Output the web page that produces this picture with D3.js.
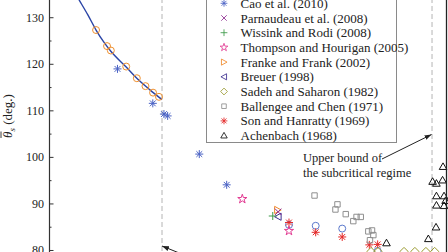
<!DOCTYPE html>
<html>
<head>
<meta charset="utf-8">
<script src="https://cdn.jsdelivr.net/npm/d3@7"></script>
<style>
  body { margin: 0; background: #fff; }
  svg { display: block; font-family: "Liberation Serif", "Times New Roman", serif; }
</style>
</head>
<body>
<div id="chart"></div>
<script>
// data (Re, mean separation angle in degrees)
var presentRe = [37, 49, 54, 80, 105, 131, 159, 185];
var presentTheta = [127.25, 123.8, 122.85, 119.4, 116.9, 115.2, 113.8, 112.9];

var fitRe = [20, 24, 30, 37, 45, 54, 80, 105, 147, 200];
var fitTheta = [136.3, 133.7, 130.5, 127.25, 124.7, 122.7, 119.3, 116.9, 114.4, 112.3];

var caoRe = [64, 158, 210, 231, 519, 1046];
var caoTheta = [118.9, 111.5, 109.2, 108.8, 100.6, 94.0];

var parnaudeauRe = [3900];
var parnaudeauTheta = [88.2];

var wissinkRe = [3400];
var wissinkTheta = [87.3];

var thompsonRe = [1560, 5150];
var thompsonTheta = [90.95, 84.1];

var frankeRe = [3850];
var frankeTheta = [88.6];

var breuerRe = [3900];
var breuerTheta = [87.15];

var sadehRe = [42000, 50200, 97700, 129000, 171000, 214000];
var sadehTheta = [79.7, 79.7, 79.7, 79.7, 79.7, 79.7];

var ballengeeRe = [9900, 17800, 16900, 22000, 26700, 29000, 32300, 39200, 43100, 44600, 40900];
var ballengeeTheta = [91.7, 89.8, 88.7, 87.7, 86.2, 87.1, 87.1, 84.0, 84.2, 83.2, 82.1];

var sonRe = [5150, 10200, 20100, 40200, 49800];
var sonTheta = [85.9, 83.8, 82.8, 81.1, 81.2];

var openCircleRe = [5150, 10200, 20100, 49800];
var openCircleTheta = [85.4, 85.2, 84.6, 79.8];

var achenbachRe = [62400, 182000, 221600, 224000, 272000, 224000, 272000, 283000, 203000, 224000, 262000, 265000];
var achenbachTheta = [81.5, 82.4, 84.9, 89.6, 89.5, 91.6, 91.6, 90.6, 94.7, 94.3, 95.0, 97.9];

var onsetRe = 200;
var subcriticalRe = 2e5;

var yTicks = [80, 90, 100, 110, 120, 130];
var yMinorTicks = [85, 95, 105, 115, 125, 135];

var legendNames = ["Cao et al. (2010)", "Parnaudeau et al. (2008)", "Wissink and Rodi (2008)",
    "Thompson and Hourigan (2005)", "Franke and Frank (2002)", "Breuer (1998)",
    "Sadeh and Saharon (1982)", "Ballengee and Chen (1971)", "Son and Hanratty (1969)", "Achenbach (1968)"];

var width = 448, height = 252;

var svg = d3.select("#chart").append("svg")
    .attr("width", width)
    .attr("height", height);

var xScale = d3.scaleLog().domain([11.1, 2.86e5]).range([49, 446]);
var yScale = d3.scaleLinear().domain([78, 136]).range([259.3, -10.7]);

function zip(xs, ys) {
    return xs.map(function (d, i) { return [d, ys[i]]; });
}

// marker shapes (stroke only)
function markerPath(type) {
    var k;
    switch (type) {
        case "ast":
            k = 2.9;
            return "M0,-4L0,4M-4,0L4,0M" + (-k) + "," + (-k) + "L" + k + "," + k + "M" + (-k) + "," + k + "L" + k + "," + (-k);
        case "times": return "M-3.2,-3.2L3.2,3.2M-3.2,3.2L3.2,-3.2";
        case "plus": return "M-4,0L4,0M0,-4L0,4";
        case "star": return d3.symbol(d3.symbolStar, 26)();
        case "triR": return "M-3,-3.6L3.6,0L-3,3.6Z";
        case "triL": return "M3,-3.6L-3.6,0L3,3.6Z";
        case "diamond": return "M0,-4L4,0L0,4L-4,0Z";
        case "square": return "M-2.7,-2.7H2.7V2.7H-2.7Z";
        case "triU": return "M0,-3.8L3.8,2.8L-3.8,2.8Z";
        case "circle": return d3.symbol(d3.symbolCircle, 38)();
    }
}

var series = [
    { name: legendNames[0], re: caoRe, th: caoTheta, type: "ast", color: "#4a62c4", legend: true },
    { name: legendNames[1], re: parnaudeauRe, th: parnaudeauTheta, type: "times", color: "#8e2c90", legend: true },
    { name: legendNames[2], re: wissinkRe, th: wissinkTheta, type: "plus", color: "#3c9a48", legend: true },
    { name: legendNames[3], re: thompsonRe, th: thompsonTheta, type: "star", color: "#e23a92", legend: true },
    { name: legendNames[4], re: frankeRe, th: frankeTheta, type: "triR", color: "#f0892c", legend: true },
    { name: legendNames[5], re: breuerRe, th: breuerTheta, type: "triL", color: "#3d2f8f", legend: true },
    { name: legendNames[6], re: sadehRe, th: sadehTheta, type: "diamond", color: "#9a9a30", legend: true },
    { name: legendNames[7], re: ballengeeRe, th: ballengeeTheta, type: "square", color: "#8f8f8f", legend: true },
    { name: legendNames[8], re: sonRe, th: sonTheta, type: "ast", color: "#e42828", legend: true },
    { name: legendNames[9], re: achenbachRe, th: achenbachTheta, type: "triU", color: "#111", legend: true },
    { name: "open circles", re: openCircleRe, th: openCircleTheta, type: "circle", color: "#5a78cc", legend: false },
    { name: "present", re: presentRe, th: presentTheta, type: "circle", color: "#f0902e", legend: false }
];

// dashed regime lines
[onsetRe, subcriticalRe].forEach(function (re) {
    svg.append("line")
        .attr("x1", xScale(re)).attr("x2", xScale(re))
        .attr("y1", -10).attr("y2", height + 10)
        .attr("stroke", "#b4b4b4")
        .attr("stroke-width", 1)
        .attr("stroke-dasharray", "5,3");
});

// fitted curve
var line = d3.line()
    .curve(d3.curveMonotoneX)
    .x(function (d) { return xScale(d[0]); })
    .y(function (d) { return yScale(d[1]); });

svg.append("path")
    .datum(zip(fitRe, fitTheta))
    .attr("d", line)
    .attr("fill", "none")
    .attr("stroke", "#2a44a6")
    .attr("stroke-width", 1.4);

// markers
series.slice().reverse().forEach(function (s) {
    svg.append("g").selectAll("path")
        .data(zip(s.re, s.th))
        .enter().append("path")
        .attr("d", markerPath(s.type))
        .attr("transform", function (d) { return "translate(" + xScale(d[0]) + "," + yScale(d[1]) + ")"; })
        .attr("fill", "none")
        .attr("stroke", s.color)
        .attr("stroke-width", 1);
});

// y axis
svg.append("g")
    .attr("transform", "translate(49,0)")
    .call(d3.axisLeft(yScale).tickValues(yMinorTicks).tickSize(-2.5).tickSizeOuter(0).tickFormat(""))
    .call(function (g) { g.select(".domain").remove(); });

var yAxis = svg.append("g")
    .attr("transform", "translate(49,0)")
    .call(d3.axisLeft(yScale).tickValues(yTicks).tickSize(-4.5).tickSizeOuter(0).tickPadding(5));
yAxis.selectAll("text")
    .attr("font-family", "Liberation Serif, Times New Roman, serif")
    .attr("font-size", 12)
    .attr("fill", "#222");
yAxis.select(".domain").attr("stroke", "#333").attr("stroke-width", 1.2);
svg.selectAll(".tick line").attr("stroke", "#333");

// right frame
svg.append("line")
    .attr("x1", 446.5).attr("x2", 446.5)
    .attr("y1", -10).attr("y2", height + 10)
    .attr("stroke", "#222")
    .attr("stroke-width", 1.3);

// y label
var yLab = svg.append("g").attr("transform", "translate(12,116) rotate(-90)");
var yText = yLab.append("text")
    .attr("x", -22).attr("y", 0)
    .attr("font-size", 13)
    .attr("fill", "#222");
yText.append("tspan").attr("font-style", "italic").text("θ");
yText.append("tspan").attr("font-style", "italic").attr("font-size", 9).attr("dy", 3).text("s");
yText.append("tspan").attr("dy", -3).text(" (deg.)");
yLab.append("line")
    .attr("x1", -22).attr("x2", -15.5)
    .attr("y1", -11).attr("y2", -11)
    .attr("stroke", "#222")
    .attr("stroke-width", 0.9);

// legend
var legend = svg.append("g");
legend.append("rect")
    .attr("x", 206.5).attr("y", -12)
    .attr("width", 190).attr("height", 154.5)
    .attr("fill", "#fff")
    .attr("stroke", "#8a8a8a")
    .attr("stroke-width", 1);

var legendItems = legend.selectAll("g.item")
    .data(series.filter(function (s) { return s.legend; }))
    .enter().append("g")
    .attr("class", "item")
    .attr("transform", function (d, i) { return "translate(224," + (3.3 + i * 14.7) + ")"; });

legendItems.append("path")
    .attr("d", function (d) { return markerPath(d.type); })
    .attr("transform", "scale(0.85)")
    .attr("fill", "none")
    .attr("stroke", function (d) { return d.color; })
    .attr("stroke-width", 1);

legendItems.append("text")
    .attr("x", 16.5)
    .attr("dy", "0.35em")
    .attr("font-size", 13)
    .attr("fill", "#222")
    .text(function (d) { return d.name; });

// annotations
var defs = svg.append("defs");
defs.append("marker")
    .attr("id", "arrow")
    .attr("viewBox", "0 0 10 10")
    .attr("refX", 10).attr("refY", 5)
    .attr("markerWidth", 7).attr("markerHeight", 7)
    .attr("orient", "auto")
    .append("path")
    .attr("d", "M0,1.5L10,5L0,8.5Z")
    .attr("fill", "#222");

svg.append("text")
    .attr("x", 303).attr("y", 161.5)
    .attr("font-size", 12.5).attr("fill", "#222")
    .text("Upper bound of");
svg.append("text")
    .attr("x", 303).attr("y", 177)
    .attr("font-size", 12.5).attr("fill", "#222")
    .text("the subcritical regime");
svg.append("line")
    .attr("x1", 382).attr("y1", 159)
    .attr("x2", xScale(subcriticalRe) - 0.5).attr("y2", 134.5)
    .attr("stroke", "#222").attr("stroke-width", 1)
    .attr("marker-end", "url(#arrow)");

svg.append("text")
    .attr("x", 188).attr("y", 261)
    .attr("font-size", 12.5).attr("fill", "#222")
    .text("Onset of");
svg.append("line")
    .attr("x1", 178).attr("y1", 252.5)
    .attr("x2", xScale(onsetRe)).attr("y2", 246)
    .attr("stroke", "#222").attr("stroke-width", 1)
    .attr("marker-end", "url(#arrow)");
</script>
</body>
</html>
